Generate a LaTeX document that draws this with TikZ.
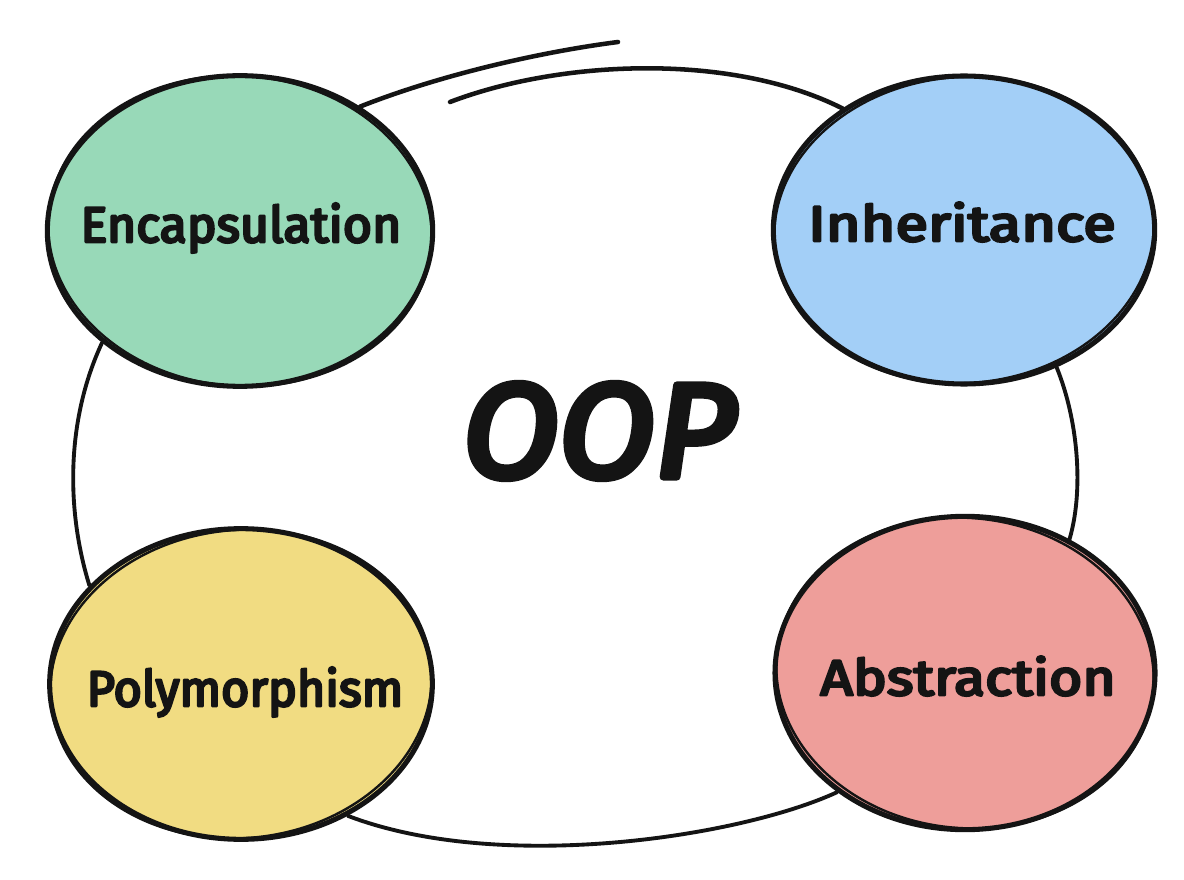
\documentclass[tikz,border=0pt]{standalone}
\usepackage{fontspec}
\setmainfont{Fira Sans}
\usetikzlibrary{shapes.geometric}
\definecolor{gfill}{HTML}{98D9B8}
\definecolor{bfill}{HTML}{A3CFF7}
\definecolor{yfill}{HTML}{F1DC82}
\definecolor{rfill}{HTML}{EE9E9A}
\definecolor{ink}{HTML}{141414}
\newcommand{\rndtext}[2]{\special{pdf:code q 1 j 1 J #1 w 2 Tr}#2\special{pdf:code 0 Tr Q}}
\tikzset{
 blob/.style={ellipse,draw=ink,line width=3.8pt,inner sep=0pt,minimum width=#1},
 ring/.style={draw=ink,line width=2.9pt,line cap=round},
 ringtop/.style={draw=ink,line width=3.4pt,line cap=round},
 sketch/.style={draw=ink,line width=1.8pt},
 lab/.style={text=ink,font=\fontsize{37.5}{40}\selectfont\mdseries,inner sep=0pt,transform shape}
}
\begin{document}
\begin{tikzpicture}[x=0.75pt,y=-0.75pt]
\useasboundingbox (0,0) rectangle (1184,880);
\fill[white] (0,0) rectangle (1184,880);
\coordinate (t1) at (618,42);
\coordinate (t2) at (450,102);
\node[blob=289pt,minimum height=233pt,fill=gfill] (enc) at (240,231) {};
\node[blob=286pt,minimum height=231pt,fill=bfill] (inh) at (964,230) {};
\node[blob=287pt,minimum height=233pt,fill=yfill] (pol) at (241,684) {};
\node[blob=285pt,minimum height=235pt,fill=rfill] (abs) at (965,673) {};
\draw[sketch,rotate around={-5:(240,231)}] (240,231) ellipse (192 and 155);
\draw[sketch,rotate around={5:(964,230)}] (964,230) ellipse (190 and 153);
\draw[sketch,rotate around={6:(241,684)}] (241,684) ellipse (191 and 154);
\draw[sketch,rotate around={-6:(965,673)}] (965,673) ellipse (189 and 155);
\draw[ringtop] (enc.46) .. controls (440,75) and (540,52) .. (t1);
\draw[ringtop] (t2) .. controls (560,60) and (730,52) .. (inh.135);
\draw[ring] (inh.-56) .. controls (1078,420) and (1084,490) .. (abs.52);
\draw[ring] (abs.-137) .. controls (740,837) and (500,874) .. (pol.-51);
\draw[ring] (pol.147) .. controls (66,510) and (66,420) .. (enc.-141);
\node[lab] (e) at (241,228) {\rndtext{1.9}{Encapsulation}};
\node[lab,xscale=1.19] (i) at (962,222) {\rndtext{1.9}{Inheritance}};
\node[lab,xscale=0.97] (p) at (245,692) {\rndtext{1.9}{Polymorphism}};
\node[lab,xscale=1.14] (a) at (968,676) {\rndtext{1.9}{Abstraction}};
\node[text=ink,font=\fontsize{100}{104}\selectfont\mdseries\itshape,inner sep=0pt,xscale=1.05,transform shape] (o) at (599,431) {\rndtext{5.5}{OOP}};
\end{tikzpicture}
\end{document}
